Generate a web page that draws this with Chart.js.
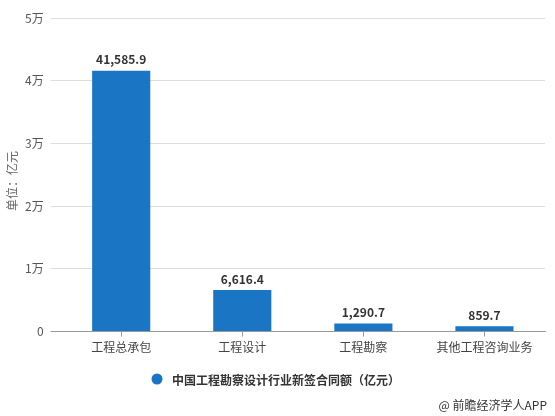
<!DOCTYPE html>
<html><head><meta charset="utf-8">
<script src="https://cdn.jsdelivr.net/npm/chart.js@4/dist/chart.umd.min.js"></script>
<style>html,body{margin:0;padding:0;background:#fff;}#wrap{width:555px;height:416px;position:relative;}</style>
</head><body><div id="wrap"><canvas id="c" width="555" height="416"></canvas></div>
<script>
const categories = ['工程总承包','工程设计','工程勘察','其他工程咨询业务'];
const values = [41585.9, 6616.4, 1290.7, 859.7];
const seriesName = '中国工程勘察设计行业新签合同额（亿元）';
const yTitle = '单位：亿元';
const sourceText = '@ 前瞻经济学人APP';
const FONT = '"Noto Sans CJK SC", "Microsoft YaHei", sans-serif';
const BAR_COLOR = '#1a75c4';

const labelPlugin = {
  id: 'labels',
  afterDatasetsDraw(chart) {
    const ctx = chart.ctx;
    const meta = chart.getDatasetMeta(0);
    ctx.save();
    ctx.font = 'bold 12px ' + FONT;
    ctx.fillStyle = '#333';
    ctx.textAlign = 'center';
    ctx.textBaseline = 'middle';
    meta.data.forEach((bar, i) => {
      const v = values[i].toLocaleString('en-US', {minimumFractionDigits: 1, maximumFractionDigits: 1});
      ctx.fillText(v, bar.x, bar.y - 11);
    });
    // legend
    ctx.beginPath();
    ctx.arc(157, 379, 5.5, 0, Math.PI * 2);
    ctx.fillStyle = chart.data.datasets[0].backgroundColor;
    ctx.fill();
    ctx.fillStyle = '#333';
    ctx.textAlign = 'left';
    ctx.fillText(chart.data.datasets[0].label, 172, 380);
    // source
    ctx.font = '12px ' + FONT;
    ctx.fillStyle = '#333';
    ctx.textAlign = 'right';
    ctx.fillText(sourceText, 547, 405);
    // y axis title
    ctx.translate(12, 181);
    ctx.rotate(-Math.PI / 2);
    ctx.fillStyle = '#666';
    ctx.textAlign = 'center';
    ctx.fillText(yTitle, 0, 0);
    ctx.restore();
  }
};

new Chart(document.getElementById('c'), {
  type: 'bar',
  data: {
    labels: categories,
    datasets: [{
      label: seriesName,
      data: values,
      backgroundColor: BAR_COLOR,
      borderWidth: 0,
      barPercentage: 0.48,
      categoryPercentage: 1.0
    }]
  },
  options: {
    responsive: false,
    animation: false,
    layout: { padding: { left: 18, right: 10, top: 18, bottom: 57 } },
    plugins: {
      legend: { display: false },
      tooltip: { enabled: false }
    },
    scales: {
      x: {
        grid: { display: true, drawOnChartArea: false, drawTicks: true, tickLength: 5, offset: false, color: '#999' },
        border: { color: '#999' },
        ticks: { color: '#444', font: { family: FONT, size: 12 }, padding: 4 }
      },
      y: {
        min: 0, max: 50000,
        grid: {
          color: c => (c.tick && c.tick.value === 0) ? '#999' : '#ddd',
          drawTicks: true, tickLength: 10,
          tickColor: c => (c.tick && c.tick.value === 0) ? '#999' : '#ddd'
        },
        border: { display: false },
        ticks: {
          stepSize: 10000,
          color: '#555',
          padding: 7,
          font: { family: FONT, size: 12 },
          callback: v => v === 0 ? '0' : (v / 10000) + '万'
        },
        title: { display: false }
      }
    }
  },
  plugins: [labelPlugin]
});
</script></body></html>
